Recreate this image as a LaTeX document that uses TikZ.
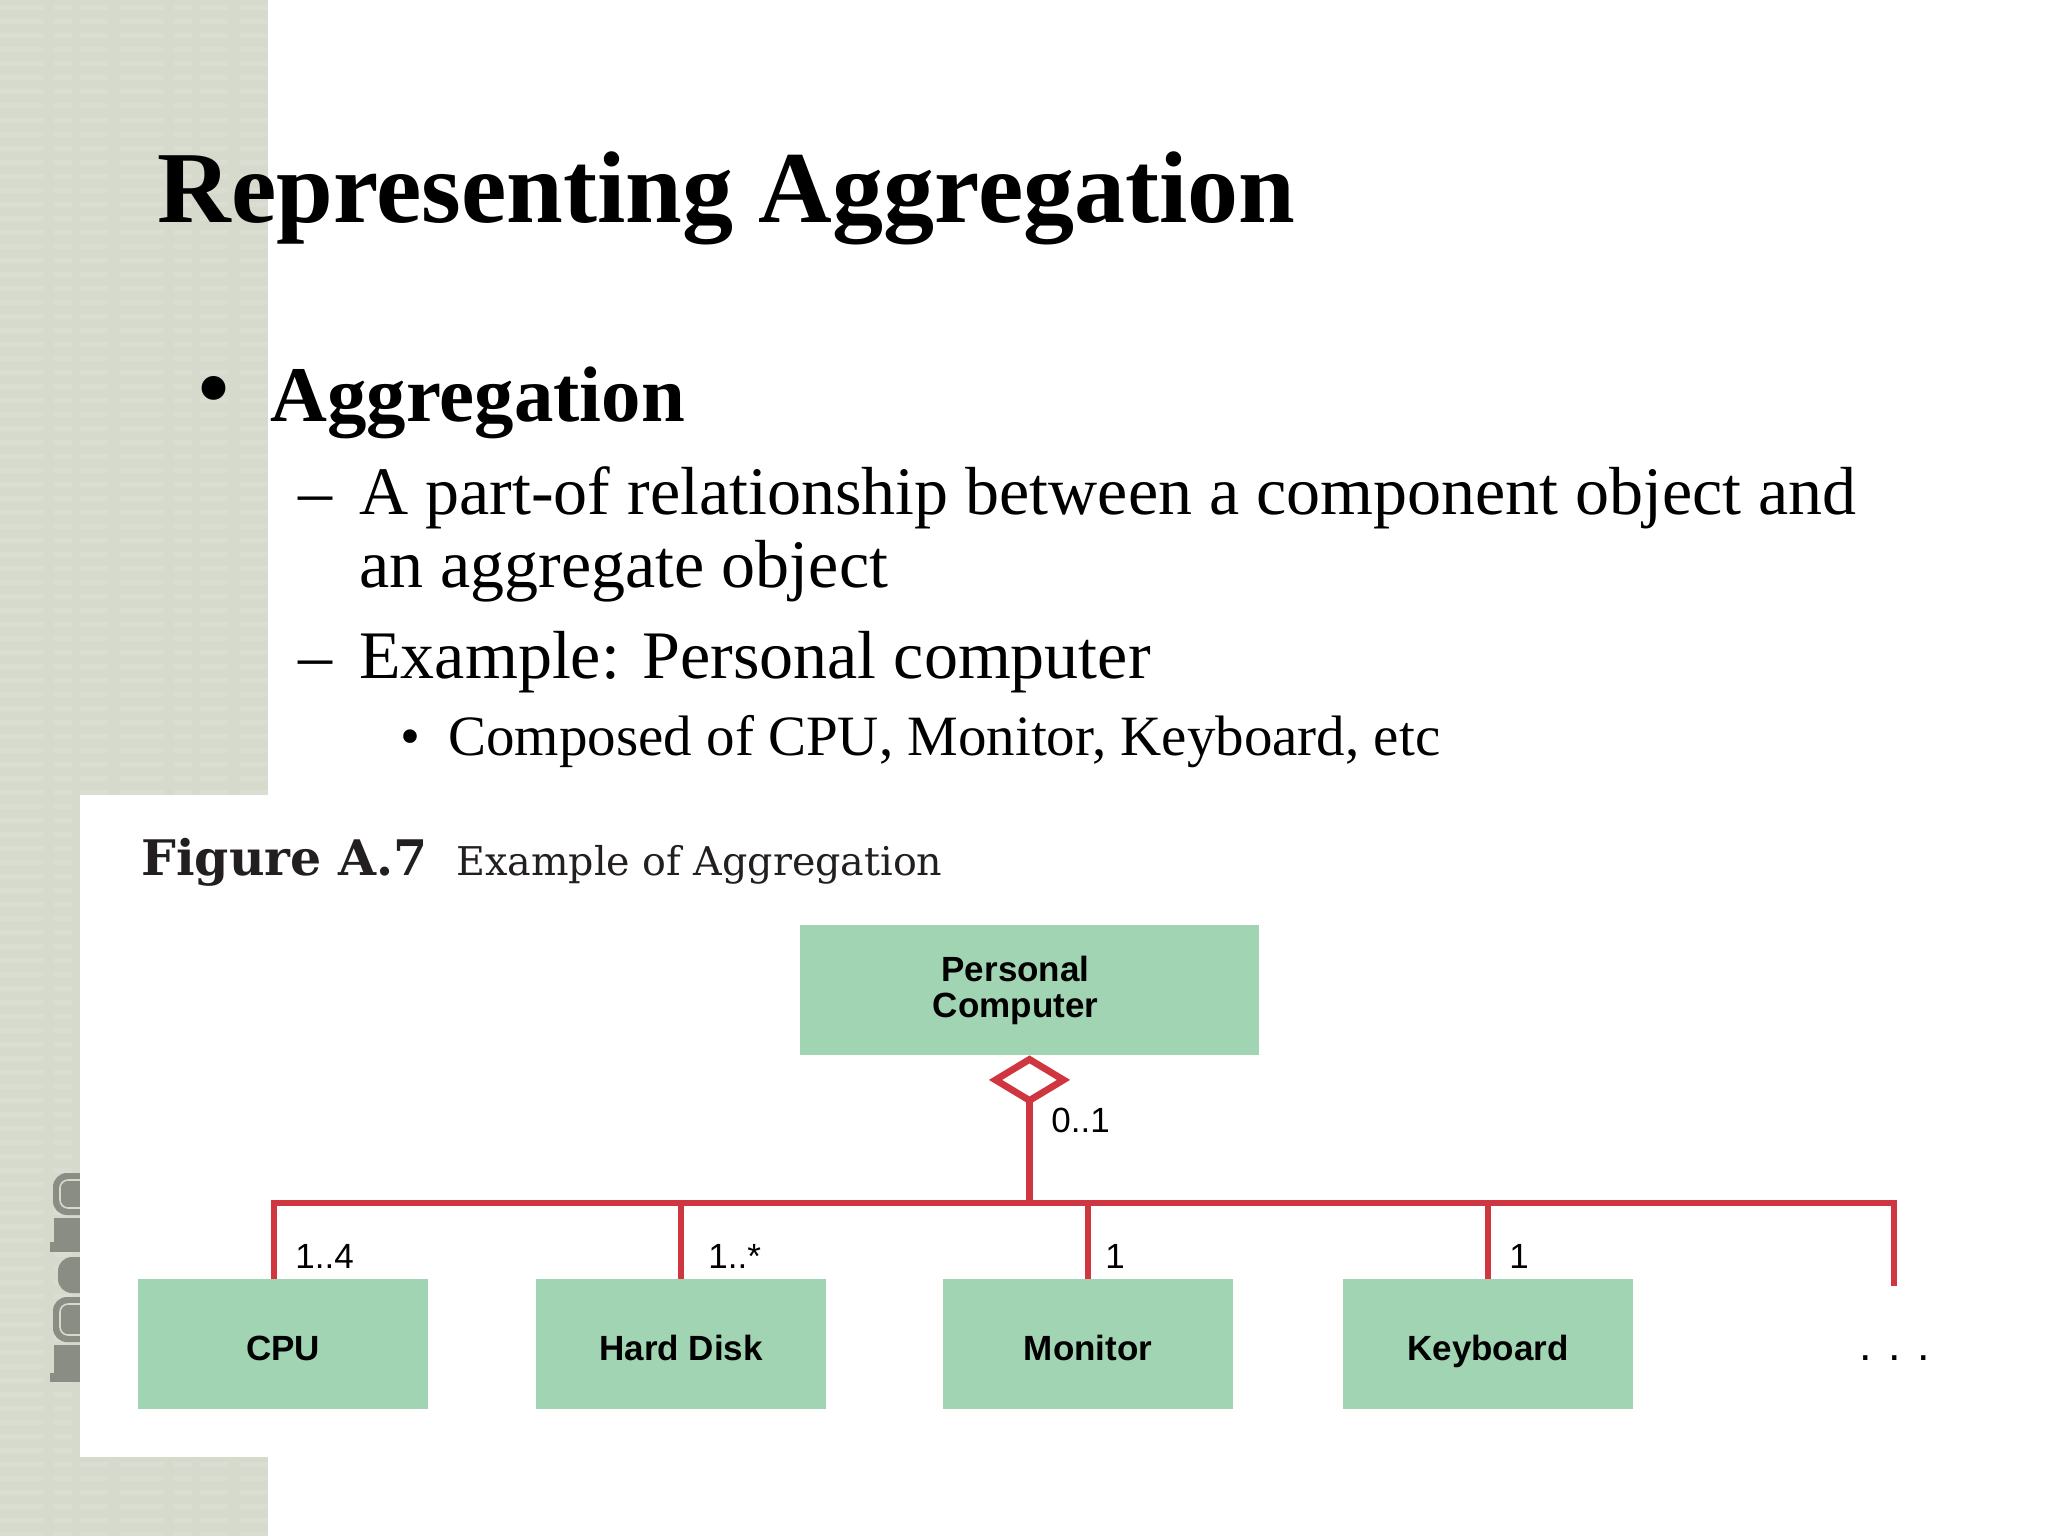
\documentclass[tikz,border=0pt]{standalone}
\usepackage{fontspec}
\setmainfont{Liberation Serif}
\newfontfamily\capfont{DejaVu Serif}
\newfontfamily\umlfont{Liberation Sans}
\usepackage{xcolor}
\usetikzlibrary{positioning}
\definecolor{stripgrey}{RGB}{214,218,204}
\definecolor{logogrey}{RGB}{138,141,131}
\definecolor{boxgreen}{RGB}{160,212,178}
\definecolor{linered}{RGB}{208,54,64}
\definecolor{capblack}{RGB}{35,31,32}

\tikzset{
  slidetext/.style={anchor=base west,inner sep=0pt},
  umlbox/.style={fill=boxgreen,minimum width=145pt,minimum height=65pt,
    inner sep=0pt,align=center,
    font=\umlfont\bfseries\fontsize{17.5}{18}\selectfont},
  partbox/.style={umlbox,text height=16.5pt,text depth=0pt},
  mult/.style={anchor=base west,inner sep=0pt,
    font=\umlfont\fontsize{17.5}{17.5}\selectfont},
  bus/.style={draw=linered,line width=3.4pt,line join=miter},
}

\begin{document}
\begin{tikzpicture}[line cap=butt,x=0.5pt,y=-0.5pt]
  \useasboundingbox (0,0) rectangle (2048,1536);
  % side strip
  \fill[stripgrey] (0,0) rectangle (268,1536);
  \foreach \y in {8,22,...,1536}
  \draw[white,opacity=0.1,line width=2.5pt,
    dash pattern=on 22pt off 5pt on 9pt off 4pt on 14pt off 6pt]
    (0,\y) -- (268,\y);
  % logo fragment
  \fill[logogrey,rounded corners=7pt] (53,1173) rectangle (110,1215);
  \fill[logogrey] (54,1218) rectangle (100,1242);
  \fill[logogrey] (50,1242) rectangle (100,1252);
  \fill[logogrey,rounded corners=7pt] (58,1257) rectangle (110,1293);
  \fill[logogrey,rounded corners=7pt] (53,1297) rectangle (110,1342);
  \fill[logogrey] (54,1345) rectangle (100,1373);
  \fill[logogrey] (50,1373) rectangle (100,1382);
  \draw[stripgrey,line width=0.8pt,rounded corners=4pt]
    (100,1180) -- (60,1180) -- (60,1208) -- (100,1208);
  \draw[stripgrey,line width=0.8pt,rounded corners=4pt]
    (100,1304) -- (60,1304) -- (60,1335) -- (100,1335);
  % figure panel
  \fill[white] (80,795) rectangle (2048,1457);

  % slide text
  \node[slidetext,font=\bfseries\fontsize{51}{56}\selectfont] (title)
    at (157,222) {Representing Aggregation};
  \node[slidetext,font=\fontsize{50}{50}\selectfont] (bula)
    at (196,421) {•};
  \node[slidetext,font=\bfseries\fontsize{39.4}{44}\selectfont] (lvla)
    at (270,421) {Aggregation};
  \node[slidetext,font=\fontsize{34}{38}\selectfont] (dasha)
    at (298,514) {–};
  \node[slidetext,font=\fontsize{34}{38}\selectfont] (linea)
    at (359,514) {A part-of relationship between a component object and};
  \node[slidetext,font=\fontsize{34}{38}\selectfont] (lineb)
    at (359,587) {an aggregate object};
  \node[slidetext,font=\fontsize{34}{38}\selectfont] (dashb)
    at (298,678) {–};
  \node[slidetext,font=\fontsize{34}{38}\selectfont] (linec)
    at (359,678) {Example: Personal computer};
  \node[slidetext,font=\fontsize{28.5}{32}\selectfont] (bulb)
    at (400,755) {•};
  \node[slidetext,font=\fontsize{28.5}{32}\selectfont] (lined)
    at (448,755) {Composed of CPU, Monitor, Keyboard, etc};

  % caption
  \node[slidetext,text=capblack,font=\capfont\bfseries\fontsize{24.5}{27}\selectfont]
    (figno) at (141,875) {Figure A.7};
  \node[slidetext,text=capblack,font=\capfont\fontsize{19.8}{22}\selectfont]
    (figcap) at (456,875) {Example of Aggregation};

  % classes
  \node[umlbox,minimum width=229.5pt] (pc) at (1029.5,990)
    {\hspace*{-14pt}Personal\\\hspace*{-14pt}Computer};
  \node[partbox] (cpu) at (283,1344) {CPU};
  \node[partbox] (disk) at (681,1344) {Hard Disk};
  \node[partbox] (monitor) at (1088,1344) {Monitor};
  \node[partbox] (keyboard) at (1488,1344) {Keyboard};
  \node[anchor=base,inner sep=0pt,font=\umlfont\fontsize{22.5}{24}\selectfont]
    (dots) at (1895,1360) {. . .};

  % aggregation diamond and bus
  \coordinate (aggtop) at ([yshift=-2pt]pc.south);
  \draw[bus,fill=white] (aggtop) -- ++(34,20.5) -- ++(-34,20.5)
    coordinate (aggbot) -- ++(-34,-20.5) -- cycle;
  \coordinate (bus) at (1029,1203);
  \coordinate (busend) at (1894,1203);
  \coordinate (busfoot) at (1894,1286);
  \draw[bus] (aggbot) -- (aggbot |- bus);
  \draw[bus] ([xshift=-4.5pt]cpu.north) |- (busend) -- (busfoot);
  \foreach \n in {disk,monitor,keyboard}
  \draw[bus] (\n.north) -- (\n.north |- bus);

  % multiplicities
  \node[mult] (magg) at (1051,1132) {0..1};
  \node[mult] (mcpu) at (295,1268) {1..4};
  \node[mult] (mdisk) at (708,1268) {1..*};
  \node[mult] (mmon) at (1105,1268) {1};
  \node[mult] (mkey) at (1509,1268) {1};
\end{tikzpicture}
\end{document}
